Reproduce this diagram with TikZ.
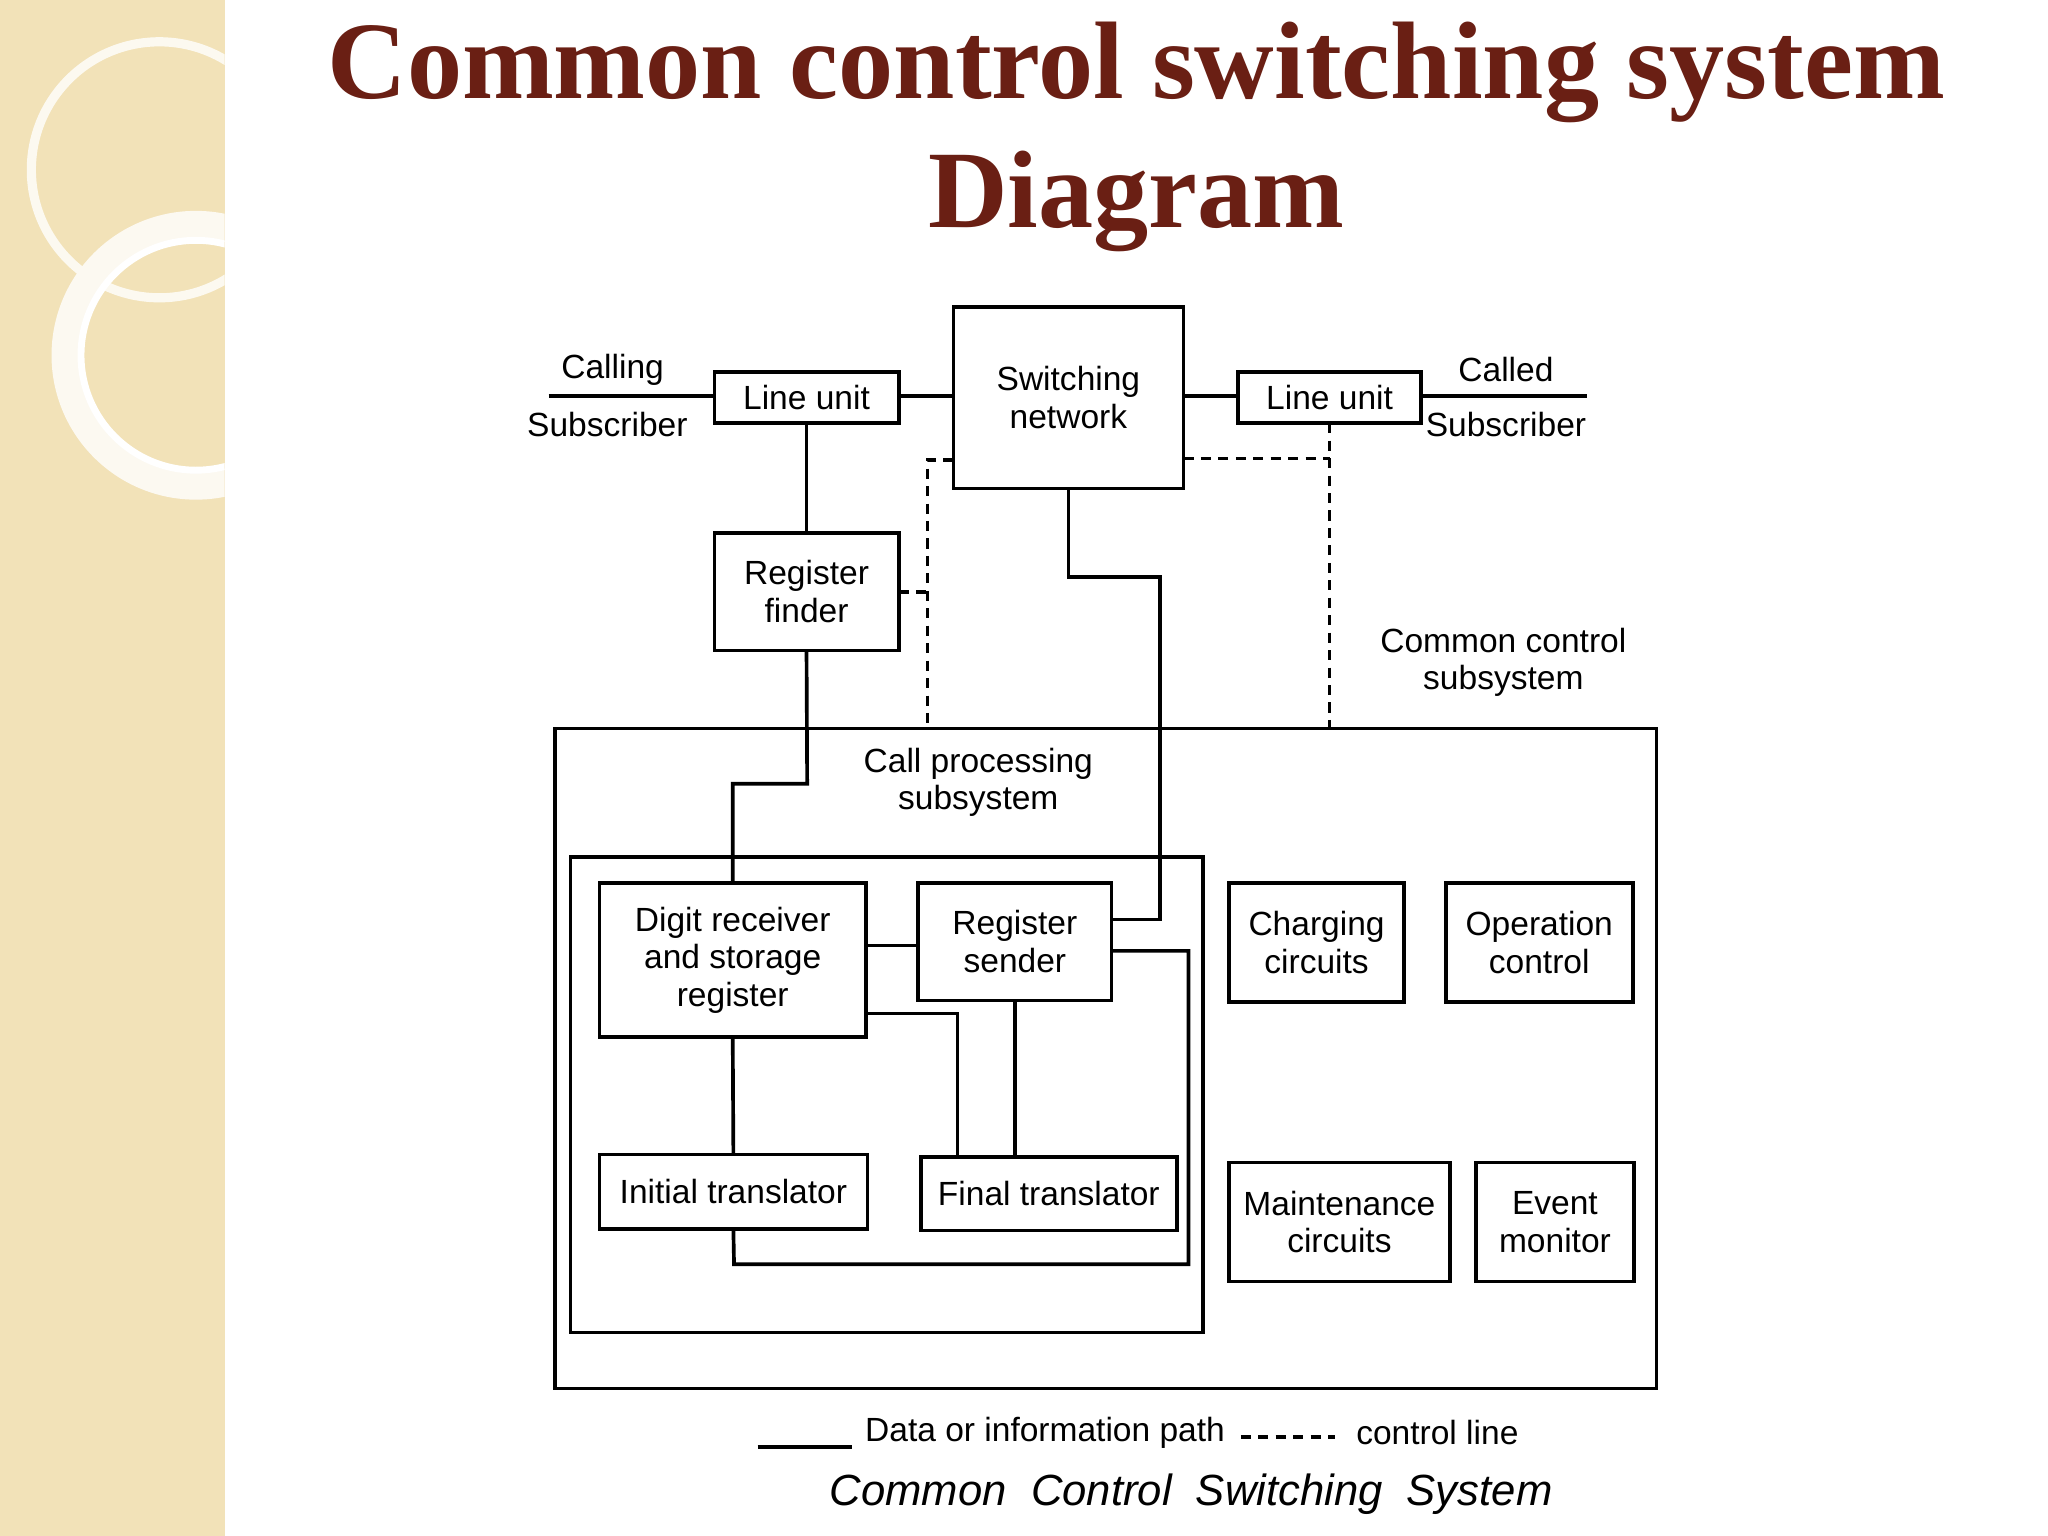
\documentclass[tikz,border=0pt]{standalone}
\usepackage{fontspec}
\setmainfont{Liberation Sans}
\newfontfamily\titlefont{Liberation Serif}
\usetikzlibrary{calc}
\definecolor{strip}{HTML}{F2E2B8}
\definecolor{ttl}{HTML}{6A1F14}
\begin{document}
\begin{tikzpicture}[x=0.01cm,y=-0.01cm,
 box/.style={draw,line width=0.8pt,inner sep=0pt,outer sep=0pt,align=center,font=\fontsize{7.3}{8.2}\selectfont},
 dl/.style={line width=0.8pt},
 cl/.style={line width=0.8pt,dash pattern=on 2.2pt off 1.6pt},
 lbl/.style={align=center,font=\fontsize{7.3}{8.2}\selectfont}]
\useasboundingbox (0,0) rectangle (1568,1176);
\fill[white] (0,0) rectangle (1568,1176);
\fill[strip] (0,0) rectangle (172,1176);
\begin{scope}
\clip (0,0) rectangle (172,1176);
\draw[white,line width=2pt,opacity=0.8] (122,130) circle (98);
\draw[white!80!strip,line width=6pt] (150,272) circle (100);
\draw[white,line width=1.5pt] (150,272) circle (88);
\end{scope}
\node[font=\titlefont\bfseries\fontsize{24}{28}\selectfont,text=ttl,align=center] (title) at (870,105) {Common control switching system\\Diagram};
% boxes
\node[box,minimum width=1.41cm,minimum height=0.39cm] (lul) at (617.5,304.5) {Line unit};
\node[box,minimum width=1.76cm,minimum height=1.39cm] (sn) at (818,304.5) {Switching\\network};
\node[box,minimum width=1.40cm,minimum height=0.39cm] (lur) at (1018,304.5) {Line unit};
\node[box,minimum width=1.41cm,minimum height=0.90cm] (rf) at (617.5,453) {Register\\finder};
\node[box,minimum width=8.43cm,minimum height=5.05cm] (outer) at (846.5,810.5) {};
\node[box,minimum width=4.84cm,minimum height=3.64cm] (inner) at (679,838) {};
\node[box,minimum width=2.04cm,minimum height=1.18cm] (dr) at (561,735) {Digit receiver\\and storage\\register};
\node[box,minimum width=1.48cm,minimum height=0.90cm] (rs) at (777,721) {Register\\sender};
\node[box,minimum width=2.05cm,minimum height=0.57cm] (it) at (561.5,912.5) {Initial translator};
\node[box,minimum width=1.96cm,minimum height=0.56cm] (ft) at (803,914) {Final translator};
\node[box,minimum width=1.34cm,minimum height=0.91cm] (cc) at (1008,721.5) {Charging\\circuits};
\node[box,minimum width=1.43cm,minimum height=0.91cm] (oc) at (1178.5,721.5) {Operation\\control};
\node[box,minimum width=1.69cm,minimum height=0.91cm] (mc) at (1025.5,935.5) {Maintenance\\circuits};
\node[box,minimum width=1.21cm,minimum height=0.91cm] (em) at (1190.5,935.5) {Event\\monitor};
% labels
\node[lbl] (calling) at (469,283) {Calling};
\node[lbl] (sub1) at (465,325) {Subscriber};
\node[lbl] (called) at (1153,283) {Called};
\node[lbl] (sub2) at (1153,325) {Subscriber};
\node[lbl] (ccs) at (1151,507) {Common control\\subsystem};
\node[lbl] (cps) at (749,599) {Call processing\\subsystem};
\coordinate (calL) at (420,303);
\coordinate (calR) at (1215,303);
% data paths
\draw[dl] (calL) -- (calL -| lul.west);
\draw[dl] (lul.east |- 0,303) -- (sn.west |- 0,303);
\draw[dl] (sn.east |- 0,303) -- (lur.west |- 0,303);
\draw[dl] (lur.east |- 0,303) -- (calR);
\draw[dl] (lul.south) -- (rf.north);
\draw[dl] (rf.south) -- (618,600) -- (561,600) -- (dr.north);
\draw[dl] (sn.south) -- (818,442) -- (888,442) -- (888,704) -- (rs.east |- 0,704);
\draw[dl] (dr.east |- 0,724) -- (rs.west |- 0,724);
\draw[dl] (rs.east |- 0,728) -- (910,728) -- (910,968) -- (562,968) -- (it.south);
\draw[dl] (dr.south) -- (it.north);
\draw[dl] (dr.east |- 0,776) -- (733,776) -- (ft.north -| 733,0);
\draw[dl] (rs.south) -- (ft.north -| rs.south);
% control lines
\draw[cl] (sn.west |- 0,352) -- (710,352) -- (outer.north -| 710,0);
\draw[cl] (rf.east |- 0,453) -- (710,453);
\draw[cl] (sn.east |- 0,351) -- (1018,351);
\draw[cl] (lur.south) -- (outer.north -| lur.south);
% legend
\coordinate (lg1) at (580,1108);
\coordinate (lg2) at (652,1108);
\draw[line width=0.8pt] (lg1) -- (lg2);
\node[lbl,anchor=west] (dtext) at (650,1097) {Data or information path};
\coordinate (lg3) at (950,1100);
\coordinate (lg4) at (1022,1100);
\draw[cl] (lg3) -- (lg4);
\node[lbl,anchor=west] (ctext) at (1026,1097) {control line};
\node[font=\itshape\fontsize{9.5}{11}\selectfont] (cap) at (912,1144) {Common\ \ Control\ \ Switching\ \ System};
\end{tikzpicture}
\end{document}
